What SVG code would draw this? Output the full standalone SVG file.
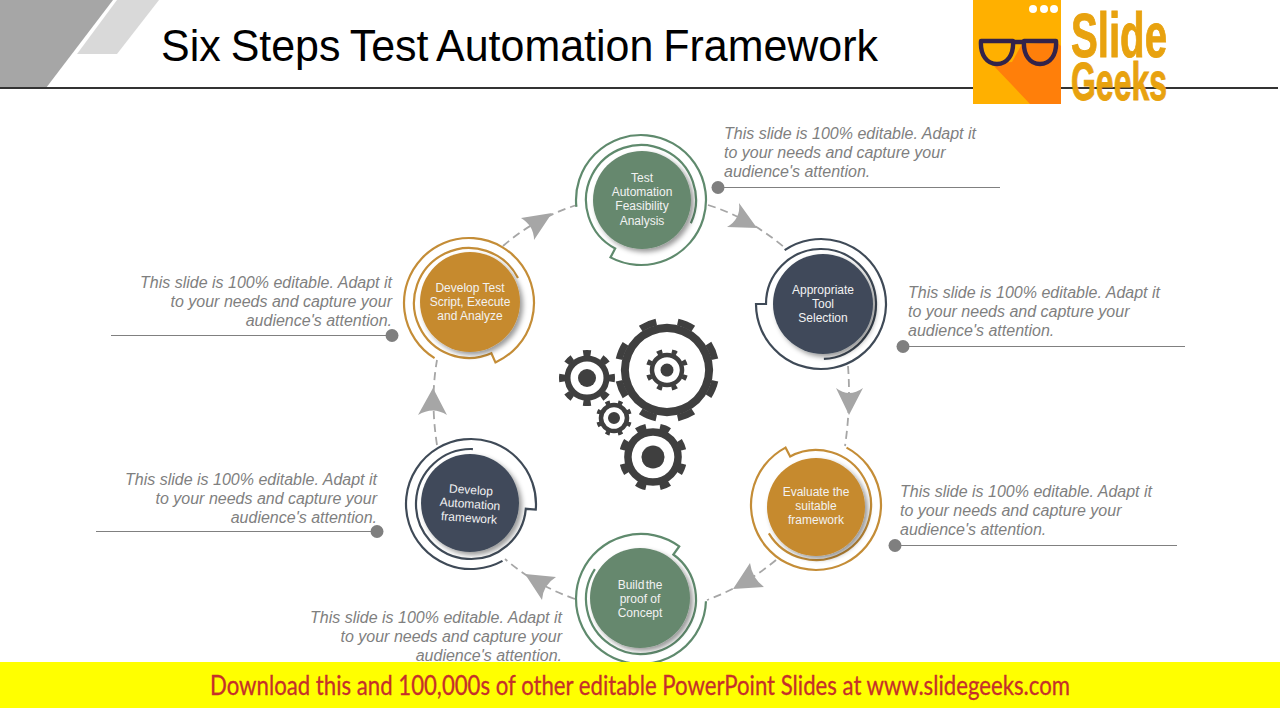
<svg xmlns="http://www.w3.org/2000/svg" width="1280" height="720" viewBox="0 0 1280 720">
<style>
.desc{font:italic 16px "Liberation Sans",Arial,sans-serif;fill:#7f7f7f}
.end{text-anchor:end}
.lbl{font:12px "Liberation Sans",Arial,sans-serif;fill:#f2f2f2;text-anchor:middle}
.ring{fill:none;stroke-width:2.2}
.rule{stroke:#808080;stroke-width:1}
.dot{fill:#7f7f7f}
.conn{fill:none;stroke:#a6a6a6;stroke-width:1.8;stroke-dasharray:8 5}
.head{fill:#a6a6a6}
.gr{fill:none;stroke:#3f3f3f}
.green{stroke:#5f8a6d}.green-f{fill:#66886e}
.navy{stroke:#3f4a57}.navy-f{fill:#3f4a5a}
.gold{stroke:#c48d37}.gold-f{fill:#c68a2e}
.logo{font-family:"Liberation Sans Narrow","Liberation Sans",sans-serif;font-weight:bold;fill:#e8a20f;stroke:#e8a20f;stroke-width:1}
</style>
<defs>
<filter id="sh" x="-20%" y="-20%" width="150%" height="150%"><feDropShadow dx="3" dy="3" stdDeviation="2.5" flood-color="#000" flood-opacity=".4"/></filter>
<path id="spiral" d="M49.85 23.24A55 55 0 1 0-25.82 48.56L-30.52 57.39A65 65 0 1 0-64.64 6.79"/>
</defs>
<rect width="1280" height="720" fill="#fff"/>
<g id="header">
<polygon points="0,0 113,0 46,88 0,88" fill="#a6a6a6"/>
<polygon points="117,0 159,0 117,54 77,54" fill="#d9d9d9"/>
<line x1="0" y1="88" x2="1278" y2="88" stroke="#333" stroke-width="1.8"/>
<text x="161" y="61" font-family="Liberation Sans,Arial,sans-serif" font-size="45" word-spacing="-2" fill="#000" textLength="717" lengthAdjust="spacingAndGlyphs">Six Steps Test Automation Framework</text>
</g>
<g id="logo">
<rect x="973" y="0" width="88" height="104" fill="#ffb000"/>
<polygon points="992,64 1012,62 1022,44 1056,42 1061,46 1061,104 1030,104" fill="#ff7f0a"/>
<circle cx="1033" cy="9" r="4" fill="#fff"/><circle cx="1044" cy="9" r="4" fill="#fff"/><circle cx="1054" cy="9" r="4" fill="#fff"/>
<path d="M981 41H1013C1014 55 1007 64 997 64C987 64 980 55 981 41ZM1024 41H1056C1057 55 1050 64 1040 64C1030 64 1023 55 1024 41ZM1013 42H1024" fill="none" stroke="#33234a" stroke-width="4.4" stroke-linejoin="round"/>
<text class="logo" x="1071" y="57" font-size="63" textLength="96" lengthAdjust="spacingAndGlyphs">Slide</text>
<text class="logo" x="1071" y="100" font-size="54" textLength="96" lengthAdjust="spacingAndGlyphs">Geeks</text>
</g>
<g id="connectors">
<path class="conn" d="M708 205Q750 218 785 248"/>
<path class="head" d="M757 228L739 203Q741 219 727 227Z"/>
<path class="conn" d="M848 366Q851 405 845 446"/>
<path class="head" d="M849 415L836 388Q849 398 863 388Z"/>
<path class="conn" d="M776 560Q745 586 707 600"/>
<path class="head" d="M733 589L750 563Q752 578 764 587Z"/>
<path class="conn" d="M575 599Q535 585 505 559"/>
<path class="head" d="M525 574L556 577Q543 585 542 600Z"/>
<path class="conn" d="M437 445Q430 400 437 360"/>
<path class="head" d="M433 388L418 415Q433 406 447 415Z"/>
<path class="conn" d="M503 246Q535 218 577 205"/>
<path class="head" d="M552 213L521 218Q534 226 534 240Z"/>
</g>
<g id="gears">
<g transform="translate(667 370) rotate(22.5)"><circle class="gr" r="42" stroke-width="8"/><circle class="gr" r="49" stroke-width="7" pathLength="80" stroke-dasharray="4.4 5.6" stroke-dashoffset="2.2"/><circle class="gr" r="15" stroke-width="4.5"/><circle class="gr" r="19" stroke-width="4.5" pathLength="80" stroke-dasharray="3.6 6.4" stroke-dashoffset="1.8"/><circle r="6.5" fill="#3f3f3f"/></g>
<g transform="translate(587 378)"><circle class="gr" r="19.5" stroke-width="6"/><circle class="gr" r="25" stroke-width="6" pathLength="80" stroke-dasharray="4 6" stroke-dashoffset="2"/><circle r="9" fill="#3f3f3f"/></g>
<g transform="translate(614 418) rotate(22.5)"><circle class="gr" r="13" stroke-width="4.5"/><circle class="gr" r="16" stroke-width="4" pathLength="80" stroke-dasharray="3.6 6.4" stroke-dashoffset="1.8"/><circle r="6" fill="#3f3f3f"/></g>
<g transform="translate(653 457) rotate(22.5)"><circle class="gr" r="25" stroke-width="7.5"/><circle class="gr" r="30.5" stroke-width="7" pathLength="80" stroke-dasharray="4.2 5.8" stroke-dashoffset="2.1"/><circle r="11.5" fill="#3f3f3f"/></g>
</g>
<g id="node-1">
<use href="#spiral" class="ring green" transform="translate(641 200)"/>
<circle class="green-f" cx="642" cy="200" r="49" filter="url(#sh)"/>
<text class="lbl" x="642" y="182">Test</text><text class="lbl" x="642" y="196">Automation</text><text class="lbl" x="642" y="210">Feasibility</text><text class="lbl" x="642" y="225">Analysis</text>
</g>
<g id="node-2">
<use href="#spiral" class="ring navy" transform="translate(821 304) rotate(62)"/>
<circle class="navy-f" cx="823" cy="304" r="50" filter="url(#sh)"/>
<text class="lbl" x="823" y="294">Appropriate</text><text class="lbl" x="823" y="308">Tool</text><text class="lbl" x="823" y="322">Selection</text>
</g>
<g id="node-3">
<use href="#spiral" class="ring gold" transform="translate(816 505) rotate(124)"/>
<circle class="gold-f" cx="816" cy="507" r="49" filter="url(#sh)"/>
<text class="lbl" x="816" y="496">Evaluate the</text><text class="lbl" x="816" y="510">suitable</text><text class="lbl" x="816" y="524">framework</text>
</g>
<g id="node-4">
<use href="#spiral" class="ring green" transform="translate(641 599) rotate(188)"/>
<circle class="green-f" cx="640" cy="598" r="50" filter="url(#sh)"/>
<text class="lbl" x="640" y="589" word-spacing="-2">Build the</text><text class="lbl" x="640" y="603">proof of</text><text class="lbl" x="640" y="617">Concept</text>
</g>
<g id="node-5">
<use href="#spiral" class="ring navy" transform="translate(471 504) rotate(247)"/>
<circle class="navy-f" cx="470" cy="503" r="49" filter="url(#sh)"/>
<g transform="rotate(4 470 504)"><text class="lbl" x="470" y="494">Develop</text><text class="lbl" x="470" y="508">Automation</text><text class="lbl" x="470" y="522">framework</text></g>
</g>
<g id="node-6">
<use href="#spiral" class="ring gold" transform="translate(469 303) rotate(308)"/>
<circle class="gold-f" cx="470" cy="302" r="50" filter="url(#sh)"/>
<text class="lbl" x="470" y="292">Develop Test</text><text class="lbl" x="470" y="306">Script, Execute</text><text class="lbl" x="470" y="320">and Analyze</text>
</g>
<g id="callouts">
<text class="desc" x="724" y="139">This slide is 100% editable. Adapt it</text><text class="desc" x="724" y="158">to your needs and capture your</text><text class="desc" x="724" y="177">audience's attention.</text>
<line class="rule" x1="718" y1="187.5" x2="1000" y2="187.5"/><circle class="dot" cx="718" cy="187.5" r="6.5"/>
<text class="desc" x="908" y="298">This slide is 100% editable. Adapt it</text><text class="desc" x="908" y="317">to your needs and capture your</text><text class="desc" x="908" y="336">audience's attention.</text>
<line class="rule" x1="903" y1="346.5" x2="1185" y2="346.5"/><circle class="dot" cx="903" cy="346.5" r="6.5"/>
<text class="desc" x="900" y="497">This slide is 100% editable. Adapt it</text><text class="desc" x="900" y="516">to your needs and capture your</text><text class="desc" x="900" y="535">audience's attention.</text>
<line class="rule" x1="895" y1="545.5" x2="1177" y2="545.5"/><circle class="dot" cx="895" cy="545.5" r="6.5"/>
<text class="desc end" x="562" y="623">This slide is 100% editable. Adapt it</text><text class="desc end" x="562" y="642">to your needs and capture your</text><text class="desc end" x="562" y="661">audience's attention.</text>
<text class="desc end" x="377" y="485">This slide is 100% editable. Adapt it</text><text class="desc end" x="377" y="504">to your needs and capture your</text><text class="desc end" x="377" y="523">audience's attention.</text>
<line class="rule" x1="96" y1="531.5" x2="377" y2="531.5"/><circle class="dot" cx="377" cy="531.5" r="6.5"/>
<text class="desc end" x="392" y="288">This slide is 100% editable. Adapt it</text><text class="desc end" x="392" y="307">to your needs and capture your</text><text class="desc end" x="392" y="326">audience's attention.</text>
<line class="rule" x1="111" y1="335.5" x2="392" y2="335.5"/><circle class="dot" cx="392" cy="335.5" r="6.5"/>
</g>
<g id="banner">
<rect x="0" y="662" width="1280" height="46" fill="#ffff00"/>
<text x="210" y="695" font-family="Lato,Liberation Sans,sans-serif" font-size="26" fill="#c5302a" stroke="#c5302a" stroke-width=".3" textLength="860" lengthAdjust="spacingAndGlyphs">Download this and 100,000s of other editable PowerPoint Slides at www.slidegeeks.com</text>
</g>
</svg>
